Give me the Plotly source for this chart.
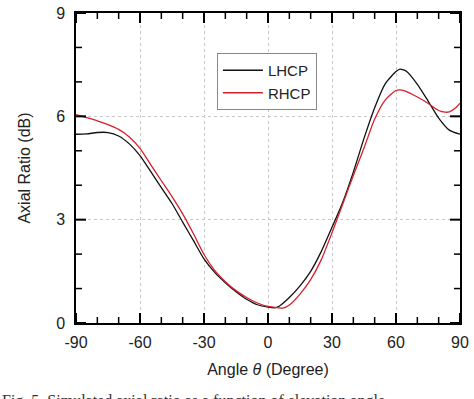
import plotly.graph_objects as go

angle_lhcp = [-90, -85, -80, -75, -70, -65, -60, -55, -50, -45, -40, -35, -30, -25, -20, -15, -10, -5, 0, 3, 5, 10, 15, 20, 25, 30, 35, 40, 45, 50, 55, 60, 62, 65, 70, 75, 80, 85, 90]
lhcp = [5.48, 5.49, 5.53, 5.53, 5.43, 5.2, 4.86, 4.4, 3.93, 3.47, 2.93, 2.4, 1.86, 1.47, 1.17, 0.91, 0.69, 0.53, 0.46, 0.44, 0.48, 0.74, 1.08, 1.5, 2.08, 2.78, 3.5, 4.38, 5.36, 6.25, 6.95, 7.3, 7.37, 7.3, 6.93, 6.45, 5.95, 5.6, 5.48]

angle_rhcp = [-90, -85, -80, -75, -70, -65, -60, -55, -50, -45, -40, -35, -30, -25, -20, -15, -10, -5, 0, 5, 7, 10, 15, 20, 25, 30, 35, 40, 45, 50, 55, 60, 62, 65, 70, 75, 80, 83, 85, 88, 90]
rhcp = [6.05, 5.96, 5.87, 5.76, 5.62, 5.4, 5.07, 4.6, 4.13, 3.67, 3.17, 2.6, 1.99, 1.53, 1.2, 0.94, 0.74, 0.58, 0.48, 0.44, 0.43, 0.52, 0.84, 1.26, 1.84, 2.62, 3.45, 4.28, 5.08, 5.92, 6.48, 6.75, 6.77, 6.72, 6.56, 6.38, 6.17, 6.12, 6.13, 6.25, 6.38]

x_ticks = [-90, -60, -30, 0, 30, 60, 90]
y_ticks = [0, 3, 6, 9]
x_range = [-90, 90]
y_range = [0, 9]
x_minor_step = 10
y_minor_step = 1

font_f = "Liberation Sans, Arial"
PLOT_W, PLOT_H = 384, 310
MAJOR_LEN, MINOR_LEN = 10, 6

fig = go.Figure()
fig.add_trace(go.Scatter(x=angle_lhcp, y=lhcp, mode="lines", name="LHCP",
                         line=dict(color="#111111", width=1.3, shape="spline", smoothing=0.6)))
fig.add_trace(go.Scatter(x=angle_rhcp, y=rhcp, mode="lines", name="RHCP",
                         line=dict(color="#d4202c", width=1.3, shape="spline", smoothing=0.6)))

# inward tick marks on all four sides, built from the tick lists and drawn through the axes
x_minor = [v for v in range(x_range[0], x_range[1] + 1, x_minor_step) if v not in x_ticks]
y_minor = [v for v in range(y_range[0], y_range[1] + 1, y_minor_step) if v not in y_ticks]

def tick_segments(xv, yv, ln_px):
    dy = ln_px / PLOT_H * (y_range[1] - y_range[0])
    dx = ln_px / PLOT_W * (x_range[1] - x_range[0])
    xs, ys = [], []
    for v in xv:
        xs += [v, v, None, v, v, None]
        ys += [y_range[0], y_range[0] + dy, None, y_range[1], y_range[1] - dy, None]
    for v in yv:
        xs += [x_range[0], x_range[0] + dx, None, x_range[1], x_range[1] - dx, None]
        ys += [v, v, None, v, v, None]
    return xs, ys

for xv, yv, ln, w in ((x_ticks, y_ticks, MAJOR_LEN, 2), (x_minor, y_minor, MINOR_LEN, 1.5)):
    xs, ys = tick_segments(xv, yv, ln)
    fig.add_trace(go.Scatter(x=xs, y=ys, mode="lines", line=dict(color="black", width=w),
                             showlegend=False, hoverinfo="skip", cliponaxis=False,
                             connectgaps=False))

fig.update_layout(
    xaxis=dict(range=x_range, tickvals=x_ticks, ticktext=[str(v) for v in x_ticks],
               showline=True, linecolor="black", linewidth=1.5, mirror=True, ticks="",
               showgrid=True, gridcolor="#c8c8c8", griddash="dot", gridwidth=1,
               zeroline=False, automargin=False, ticklabelstandoff=4,
               tickfont=dict(family=font_f, size=16, color="#222"),
               title=dict(text="Angle <i>θ</i> (Degree)", standoff=14,
                          font=dict(family=font_f, size=16, color="#222"))),
    yaxis=dict(range=y_range, tickvals=y_ticks, ticktext=[str(v) for v in y_ticks],
               showline=True, linecolor="black", linewidth=1.5, mirror=True, ticks="",
               showgrid=True, gridcolor="#c8c8c8", griddash="dot", gridwidth=1,
               zeroline=False, automargin=False, ticklabelstandoff=6,
               tickfont=dict(family=font_f, size=16, color="#222"),
               title=dict(text="Axial Ratio (dB)", standoff=22,
                          font=dict(family=font_f, size=16, color="#222"))),
    width=474, height=399,
    margin=dict(l=76, r=14, t=13, b=76, autoexpand=False),
    paper_bgcolor="white", plot_bgcolor="white",
    showlegend=True,
    legend=dict(x=0.367, y=0.871, xanchor="left", yanchor="top",
                bordercolor="#888", borderwidth=1, bgcolor="white",
                font=dict(family=font_f, size=15, color="#222"),
                itemwidth=40, tracegroupgap=0),
    annotations=[dict(text="Fig. 5. Simulated axial ratio as a function of elevation angle.",
                      xref="paper", yref="paper", x=-0.198, y=-0.215,
                      xanchor="left", yanchor="top", showarrow=False,
                      font=dict(family="Liberation Serif, Times New Roman", size=16, color="#333"))],
)

fig.write_html("out.html", config={"displayModeBar": False},
               post_script="document.body.style.margin='0';document.body.style.overflow='hidden';")
